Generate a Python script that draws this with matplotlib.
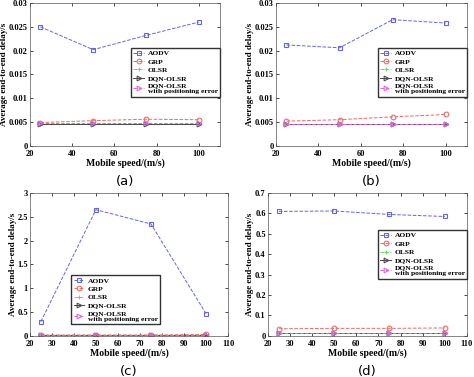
import matplotlib
matplotlib.use('Agg')
import matplotlib.pyplot as plt
import numpy as np

plt.rcParams['font.family'] = 'Liberation Serif'
plt.rcParams['font.weight'] = 'bold'
plt.rcParams['axes.labelweight'] = 'bold'
plt.rcParams['font.size'] = 6.5

speed = [25, 50, 75, 100]
names = ['AODV', 'GRP', 'OLSR', 'DQN-OLSR', 'DQN-OLSR\nwith positioning error']

# panel values: AODV, GRP, OLSR, DQN-OLSR, DQN-OLSR w/ positioning error
a_vals = [[0.0250, 0.0202, 0.0232, 0.0260],
          [0.0049, 0.0053, 0.0056, 0.0055],
          [0.0047, 0.0047, 0.0047, 0.0047],
          [0.0047, 0.0047, 0.0047, 0.0047],
          [0.0048, 0.0048, 0.0048, 0.0048]]
b_vals = [[0.0212, 0.0206, 0.0265, 0.0258],
          [0.0052, 0.0055, 0.0061, 0.0066],
          [0.0047, 0.0047, 0.0047, 0.0047],
          [0.0047, 0.0047, 0.0047, 0.0047],
          [0.0047, 0.0047, 0.0047, 0.0047]]
c_vals = [[0.30, 2.65, 2.35, 0.47],
          [0.02, 0.02, 0.02, 0.03],
          [0.01, 0.01, 0.01, 0.01],
          [0.01, 0.01, 0.01, 0.01],
          [0.01, 0.01, 0.01, 0.01]]
d_vals = [[0.610, 0.612, 0.595, 0.585],
          [0.035, 0.037, 0.037, 0.039],
          [0.012, 0.012, 0.012, 0.012],
          [0.012, 0.012, 0.012, 0.012],
          [0.012, 0.012, 0.012, 0.012]]

styles = [dict(color='#6464e6', ls='--', marker='s'),
          dict(color='#ee6a6a', ls='--', marker='o'),
          dict(color='#66dd66', ls='--', marker='+'),
          dict(color='#4a4a4a', ls='-', marker='>'),
          dict(color='#e066e0', ls='--', marker='>')]

panels = [
  # vals, rect, ylim, yticks, xticks, legend bbox (fig coords), label, label pos
  (a_vals, [0.063, 0.613, 0.401, 0.379], (0, 0.03), [0, 0.005, 0.01, 0.015, 0.02, 0.025, 0.03],
   [20, 40, 60, 80, 100], (0.464, 0.873), '(a)', (0.264, 0.508)),
  (b_vals, [0.582, 0.613, 0.403, 0.379], (0, 0.03), [0, 0.005, 0.01, 0.015, 0.02, 0.025, 0.03],
   [20, 40, 60, 80, 100], (0.985, 0.873), '(b)', (0.783, 0.508)),
  (c_vals, [0.063, 0.109, 0.418, 0.379], (0, 3), [0, 0.5, 1, 1.5, 2, 2.5, 3],
   list(range(20, 111, 10)), (0.338, 0.27), '(c)', (0.272, 0.006)),
  (d_vals, [0.565, 0.109, 0.420, 0.379], (0, 0.7), [0, 0.1, 0.2, 0.3, 0.4, 0.5, 0.6, 0.7],
   list(range(20, 111, 10)), (0.985, 0.39), '(d)', (0.775, 0.006)),
]

fig = plt.figure(figsize=(4.74, 3.77), dpi=100)
for vals, rect, ylim, yticks, xticks, lbox, lab, lpos in panels:
  ax = fig.add_axes(rect)
  for k in range(5):
    ax.plot(speed, vals[k], label=names[k], lw=0.7, ms=3.4, mfc='none', mew=0.8, **styles[k])
  ax.set_xlim(20, 110); ax.set_ylim(*ylim)
  ax.set_xticks(xticks); ax.set_yticks(yticks)
  ax.set_yticklabels([f'{t:g}' for t in yticks], fontweight='bold')
  ax.set_xticklabels([str(t) for t in xticks], fontweight='bold')
  ax.tick_params(direction='in', length=2, width=0.5, labelsize=6, top=True, right=True)
  ax.tick_params(axis='x', pad=3)
  ax.tick_params(axis='y', pad=1.5)
  for s in ax.spines.values():
    s.set_linewidth(0.5); s.set_color('#555555')
  ax.set_xlabel('Mobile speed/(m/s)', fontsize=7, fontweight='bold', labelpad=0.5)
  ax.set_ylabel('Average end-to-end delay/s', fontsize=6.5, fontweight='bold', labelpad=0.5)
  ax.legend(loc='upper right', bbox_to_anchor=lbox, bbox_transform=fig.transFigure,
            prop={'size': 5.4, 'weight': 'bold', 'family': 'Liberation Serif'},
            frameon=True, fancybox=False, edgecolor='#333333', framealpha=1,
            handlelength=1.4, handletextpad=0.5, borderpad=0.3, labelspacing=0.28, borderaxespad=0)
  fig.text(lpos[0], lpos[1], lab, family='DejaVu Sans', weight='normal', fontsize=9.5, ha='center')

fig.savefig('out.png', dpi=100)
